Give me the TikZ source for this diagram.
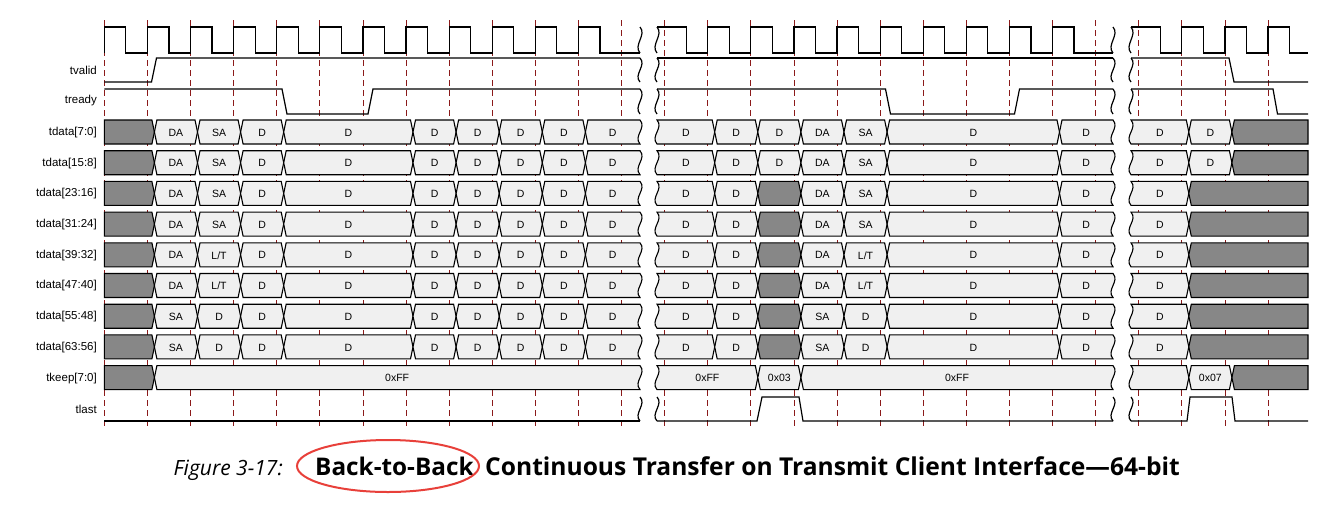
\documentclass[tikz,border=0pt]{standalone}
\usepackage{fontspec}
\setmainfont{Liberation Sans}
\newfontfamily\capfont{Open Sans}
\definecolor{busfill}{HTML}{F0F0F0}
\definecolor{busgray}{HTML}{878787}
\definecolor{gridred}{HTML}{8B1A1A}
\definecolor{ovalred}{HTML}{E8403A}
\tikzset{
  wave/.style={draw=black, line width=1.2pt},
  lightbus/.style={draw=black, line width=1.1pt, fill=busfill},
  darkbus/.style={draw=black, line width=1.1pt, fill=busgray},
  grid/.style={draw=gridred, line width=0.8pt, dash pattern=on 6pt off 4pt},
  lbl/.style={font=\fontsize{10.5}{12}\selectfont, inner sep=0pt},
  sig/.style={font=\fontsize{11.5}{12}\selectfont, anchor=east, inner sep=0pt}
}
% left edges (from bottom to top), right edges (from top to bottom)
\def\LP#1#2{({#1+2.5},{#2+24}) -- ({#1},{#2+12}) -- ({#1+2.5},{#2})}
\def\LF#1#2{({#1},{#2+24}) -- ({#1},{#2})}
\def\LB#1#2{({#1},{#2+24}) .. controls ({#1-7},{#2+16}) and ({#1+7},{#2+8}) .. ({#1},{#2})}
\def\RP#1#2{-- ({#1-2.5},{#2}) -- ({#1},{#2+12}) -- ({#1-2.5},{#2+24})}
\def\RF#1#2{-- ({#1},{#2}) -- ({#1},{#2+24})}
\def\RB#1#2{-- ({#1},{#2}) .. controls ({#1+7},{#2+8}) and ({#1-7},{#2+16}) .. ({#1},{#2+24})}
\def\segpath#1#2#3#4#5#6{\path[#6] #1{#3}{#5} #2{#4}{#5} -- cycle;}
% \seg{ltype}{rtype}{xa}{xb}{top}{label}{style}
\newcommand\seg[7]{%
  \expandafter\expandafter\expandafter\segpath\expandafter\csname L#1\expandafter\endcsname\csname R#2\endcsname{#3}{#4}{#5}{#7}%
  \node[lbl] at ({(#3+#4)/2},{#5+12.5}) {#6};}
\newcommand\sq[3]{\draw[wave] ({#1},{#2}) .. controls ({#1+7},{#2+0.3*(#3-#2)}) and ({#1-7},{#2+0.7*(#3-#2)}) .. ({#1},{#3});}
% column transition centres
\def\ca{154.4}\def\cb{197.5}\def\cc{240.6}\def\cd{283.7}\def\cg{413.0}\def\ch{456.1}
\def\ci{499.2}\def\cj{542.3}\def\ck{585.4}
\def\cn{714.7}\def\co{757.8}\def\cp{800.9}\def\cq{844.0}\def\cr{887.1}\def\cv{1059.5}
\def\cy{1188.8}\def\cz{1231.9}
\begin{document}
\begin{tikzpicture}[x=1pt,y=-1pt]
\useasboundingbox (0,0) rectangle (1333,507);
\fill[white] (0,0) rectangle (1333,507);
% grid
\foreach \k in {0,...,27} \draw[grid] ({104.3+43.1*\k},20) -- ({104.3+43.1*\k},428);
% clock
\draw[wave] (104.3,53) -- (104.3,27)
  \foreach \k in {0,...,10} { -- ({104.3+43.1*\k+21.55},27) -- ({104.3+43.1*\k+21.55},53) -- ({104.3+43.1*(\k+1)},53) -- ({104.3+43.1*(\k+1)},27) }
  -- (600,27) -- (600,53) -- (640,53);
\draw[wave] (657,27) -- (686.15,27) -- (686.15,53) -- (707.7,53) -- (707.7,27)
  \foreach \k in {14,...,21} { -- ({104.3+43.1*\k+21.55},27) -- ({104.3+43.1*\k+21.55},53) -- ({104.3+43.1*(\k+1)},53) -- ({104.3+43.1*(\k+1)},27) }
  -- (1074,27) -- (1074,53) -- (1113,53);
\draw[wave] (1131,27) -- (1160.25,27) -- (1160.25,53) -- (1181.8,53) -- (1181.8,27)
  \foreach \k in {25,26} { -- ({104.3+43.1*\k+21.55},27) -- ({104.3+43.1*\k+21.55},53) -- ({104.3+43.1*(\k+1)},53) -- ({104.3+43.1*(\k+1)},27) }
  -- (1289.55,27) -- (1289.55,53) -- (1308,53);
% tvalid
\draw[wave] (104.3,82) -- (151.5,82) -- (156.5,58) -- (640,58);
\draw[wave] (657,58) -- (1113,58);
\draw[wave] (1131,58) -- (1229,58) -- (1234,82) -- (1308,82);
% tready
\draw[wave] (104.3,89) -- (282,89) -- (287,114) -- (368,114) -- (373,89) -- (640,89);
\draw[wave] (657,89) -- (885.5,89) -- (890.5,114) -- (1014.5,114) -- (1019.5,89) -- (1113,89);
\draw[wave] (1131,89) -- (1273,89) -- (1277.5,114) -- (1308,114);
% tlast
\draw[wave] (104.3,421) -- (640,421);
\draw[wave] (657,421) -- (757,421) -- (762,397) -- (799,397) -- (803,421) -- (1113,421);
\draw[wave] (1131,421) -- (1187,421) -- (1190,397) -- (1232,397) -- (1235,421) -- (1308,421);
% break marks on single-bit signals
\foreach \x in {640,657,1113,1131} {
  \sq{\x}{27}{53} \sq{\x}{58}{82} \sq{\x}{89}{114} \sq{\x}{397}{421}
}
% data rows
\foreach \i/\nm/\b/\c/\d/\e/\f/\sec in {
  0/{tdata[7:0]}/DA/SA/D/DA/SA/0,
  1/{tdata[15:8]}/DA/SA/D/DA/SA/0,
  2/{tdata[23:16]}/DA/SA/D/DA/SA/1,
  3/{tdata[31:24]}/DA/SA/D/DA/SA/1,
  4/{tdata[39:32]}/DA/L\slash T/D/DA/L\slash T/1,
  5/{tdata[47:40]}/DA/L\slash T/D/DA/L\slash T/1,
  6/{tdata[55:48]}/SA/D/D/SA/D/1,
  7/{tdata[63:56]}/SA/D/D/SA/D/1} {
  \pgfmathsetmacro\t{120+30.7*\i}
  \node[sig] (lab\i) at (97,{\t+12.5}) {\nm};
  \seg{F}{P}{104.3}{\ca}{\t}{}{darkbus}
  \seg{P}{P}{\ca}{\cb}{\t}{\b}{lightbus}
  \seg{P}{P}{\cb}{\cc}{\t}{\c}{lightbus}
  \seg{P}{P}{\cc}{\cd}{\t}{\d}{lightbus}
  \seg{P}{P}{\cd}{\cg}{\t}{D}{lightbus}
  \seg{P}{P}{\cg}{\ch}{\t}{D}{lightbus}
  \seg{P}{P}{\ch}{\ci}{\t}{D}{lightbus}
  \seg{P}{P}{\ci}{\cj}{\t}{D}{lightbus}
  \seg{P}{P}{\cj}{\ck}{\t}{D}{lightbus}
  \seg{P}{B}{\ck}{640}{\t}{D}{lightbus}
  \seg{B}{P}{657}{\cn}{\t}{D}{lightbus}
  \seg{P}{P}{\cn}{\co}{\t}{D}{lightbus}
  \ifnum\sec=0 \seg{P}{P}{\co}{\cp}{\t}{D}{lightbus}\else\seg{P}{P}{\co}{\cp}{\t}{}{darkbus}\fi
  \seg{P}{P}{\cp}{\cq}{\t}{\e}{lightbus}
  \seg{P}{P}{\cq}{\cr}{\t}{\f}{lightbus}
  \seg{P}{P}{\cr}{\cv}{\t}{D}{lightbus}
  \seg{P}{B}{\cv}{1113}{\t}{D}{lightbus}
  \seg{B}{P}{1131}{\cy}{\t}{D}{lightbus}
  \ifnum\sec=0 \seg{P}{P}{\cy}{\cz}{\t}{D}{lightbus}\seg{P}{F}{\cz}{1308}{\t}{}{darkbus}\else\seg{P}{F}{\cy}{1308}{\t}{}{darkbus}\fi
}
% tkeep
\def\t{365.6}
\node[sig] (labk) at (97,{\t+12.5}) {tkeep[7:0]};
\seg{F}{P}{104.3}{\ca}{\t}{}{darkbus}
\seg{P}{B}{\ca}{640}{\t}{0xFF}{lightbus}
\seg{B}{P}{657}{\co}{\t}{0xFF}{lightbus}
\seg{P}{P}{\co}{\cp}{\t}{0x03}{lightbus}
\seg{P}{B}{\cp}{1113}{\t}{0xFF}{lightbus}
\seg{B}{P}{1131}{\cy}{\t}{}{lightbus}
\seg{P}{P}{\cy}{\cz}{\t}{0x07}{lightbus}
\seg{P}{F}{\cz}{1308}{\t}{}{darkbus}
% single-bit labels
\node[sig] (labv) at (97,70) {tvalid};
\node[sig] (labr) at (97,101) {tready};
\node[sig] (labl) at (97,409) {tlast};
% caption
\node[anchor=base east, inner sep=0pt, font=\capfont\fontsize{21}{26}\selectfont\itshape] (fig) at (283,475) {Figure 3-17:};
\node[anchor=base west, inner sep=0pt, font=\capfont\fontsize{24.3}{28}\selectfont\bfseries] (b2b) at (315,475) {Back-to-Back};
\node[anchor=base west, inner sep=0pt, font=\capfont\fontsize{24.6}{28}\selectfont\bfseries] (rest) at (485,475) {Continuous Transfer on Transmit Client Interface—64-bit};
\draw[ovalred, line width=2pt] (388,466) ellipse [x radius=91, y radius=26];
\end{tikzpicture}
\end{document}
